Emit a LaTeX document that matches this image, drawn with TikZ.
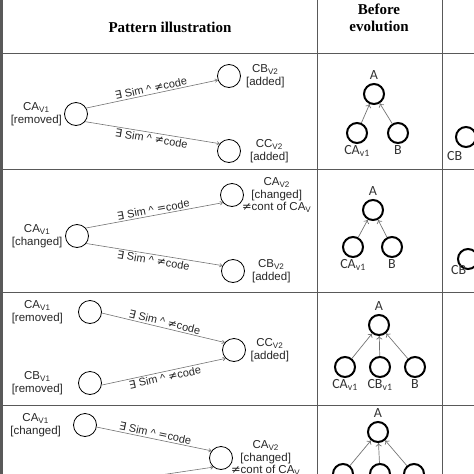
\documentclass[tikz,border=0pt]{standalone}
\usepackage{fontspec}
\setmainfont{Liberation Sans}
\newfontfamily\hdfont{Liberation Serif}
\newfontfamily\trfont{Carlito}
\newfontfamily\exfont{DejaVu Sans}
\usetikzlibrary{positioning,arrows.meta}
\newcommand{\simrel}[1]{{\exfont ∃} Sim \textasciicircum\ {\exfont #1}code}

\begin{document}
\begin{tikzpicture}[x=1pt,y=-1pt,
  pat/.style={circle,draw,minimum size=23pt,inner sep=0pt,line width=0.8pt},
  tnode/.style={circle,draw,minimum size=20pt,inner sep=0pt,line width=2pt},
  lbl/.style={align=center,inner sep=1pt,text=black!85,font=\fontsize{11.5}{12.5}\selectfont},
  tlbl/.style={inner sep=1pt,text=black!80,font=\trfont\fontsize{14}{15}\selectfont,text height=9.5pt,text depth=2.5pt},
  rel/.style={draw=black!55,line width=0.6pt,-{To[length=3pt,width=4pt]}},
  rlbl/.style={sloped,midway,inner sep=1.5pt,text=black!85,font=\fontsize{11}{12}\selectfont},
  tarr/.style={draw=black!55,line width=0.7pt,-{To[length=3.5pt,width=6pt]}},
  grid/.style={draw=black!65,line width=1pt},
  head/.style={align=center,font=\hdfont\bfseries\fontsize{15}{17}\selectfont}]
\useasboundingbox (0,0) rectangle (474,474);
\draw[grid] (0,53) -- (474,53);
\draw[grid] (0,169) -- (474,169);
\draw[grid] (0,292) -- (474,292);
\draw[grid] (0,405) -- (474,405);
\draw[grid] (317,0) -- (317,474);
\draw[grid] (442,0) -- (442,474);
\draw[grid,line width=2.5pt] (1.25,0) -- (1.25,474);
\node[head] (hpat) at (170,27) {Pattern illustration};
\node[head] (hbef) at (379,18) {Before\\evolution};

\node[pat] (p1a) at (76,114) {};
\node[pat] (p1b) at (229,76) {};
\node[pat] (p1c) at (229,151) {};
\node[lbl,left=1pt of p1a] (p1at) {CA\textsubscript{V1}\\{[removed]}};
\node[lbl,right=4pt of p1b] (p1bt) {CB\textsubscript{V2}\\{[added]}};
\node[lbl,right=8pt of p1c] (p1ct) {CC\textsubscript{V2}\\{[added]}};
\draw[rel] (p1a.30) -- node[rlbl,above] {\simrel{≠}} (p1b.200);
\draw[rel] (p1a.-40) -- node[rlbl,below] {\simrel{≠}} (p1c.142);

\node[pat] (p2a) at (77,236) {};
\node[pat] (p2b) at (232,195) {};
\node[pat] (p2c) at (233,271) {};
\node[lbl,left=1.5pt of p2a] (p2at) {CA\textsubscript{V1}\\{[changed]}};
\node[lbl,right=-3pt of p2b] (p2bt) {CA\textsubscript{V2}\\{[changed]}\\{\exfont ≠}cont of CA\textsubscript{V}};
\node[lbl,right=6pt of p2c] (p2ct) {CB\textsubscript{V2}\\{[added]}};
\draw[rel] (p2a.42) -- node[rlbl,above] {\simrel{=}} (p2b.220);
\draw[rel] (p2a.-39) -- node[rlbl,below] {\simrel{≠}} (p2c.153);

\node[pat] (p3a) at (90,312) {};
\node[pat] (p3b) at (90,383) {};
\node[pat] (p3c) at (234,350) {};
\node[lbl,left=14pt of p3a] (p3at) {CA\textsubscript{V1}\\{[removed]}};
\node[lbl,left=14pt of p3b] (p3bt) {CB\textsubscript{V1}\\{[removed]}};
\node[lbl,right=3.5pt of p3c] (p3ct) {CC\textsubscript{V2}\\{[added]}};
\draw[rel] (p3a.-5) -- node[rlbl,above] {\simrel{≠}} (p3c.141);
\draw[rel] (p3b.-10) -- node[rlbl,below] {\simrel{≠}} (p3c.225);

\node[pat] (p4a) at (85,425) {};
\node[pat] (p4b) at (221,458) {};
\coordinate (p4x) at (100,484);
\node[lbl,left=11pt of p4a] (p4at) {CA\textsubscript{V1}\\{[changed]}};
\node[lbl,right=-3pt of p4b] (p4bt) {CA\textsubscript{V2}\\{[changed]}\\{\exfont ≠}cont of CA\textsubscript{V}};
\draw[rel] (p4a.-10) -- node[rlbl,above] {\simrel{=}} (p4b.143);
\draw[rel] (p4x) -- (p4b.230);

\node[tnode] (t1a) at (374,94) {};
\node[tnode] (t1c) at (357,133) {};
\node[tnode] (t1b) at (398,133) {};
\node[tlbl,above=0pt of t1a] (t1at) {A};
\node[tlbl,below=0pt of t1c] (t1ct) {CA\textsubscript{v1}};
\node[tlbl,below=0pt of t1b] (t1bt) {B};
\draw[tarr] (t1c) -- (t1a);
\draw[tarr] (t1b) -- (t1a);

\node[tnode] (t2a) at (373,210) {};
\node[tnode] (t2c) at (353,247) {};
\node[tnode] (t2b) at (392,247) {};
\node[tlbl,above=0pt of t2a] (t2at) {A};
\node[tlbl,below=0pt of t2c] (t2ct) {CA\textsubscript{v1}};
\node[tlbl,below=0pt of t2b] (t2bt) {B};
\draw[tarr] (t2c) -- (t2a);
\draw[tarr] (t2b) -- (t2a);

\node[tnode] (t3a) at (379,325) {};
\node[tnode] (t3c) at (345,367) {};
\node[tnode] (t3d) at (380,367) {};
\node[tnode] (t3b) at (415,367) {};
\node[tlbl,above=0pt of t3a] (t3at) {A};
\node[tlbl,below=0pt of t3c] (t3ct) {CA\textsubscript{v1}};
\node[tlbl,below=0pt of t3d] (t3dt) {CB\textsubscript{v1}};
\node[tlbl,below=0pt of t3b] (t3bt) {B};
\draw[tarr] (t3c) -- (t3a);
\draw[tarr] (t3d) -- (t3a);
\draw[tarr] (t3b) -- (t3a);

\node[tnode] (t4a) at (378,432) {};
\node[tnode] (t4c) at (343,474) {};
\node[tnode] (t4d) at (380,474) {};
\node[tnode] (t4b) at (414,474) {};
\node[tlbl,above=0pt of t4a] (t4at) {A};
\draw[tarr] (t4c) -- (t4a);
\draw[tarr] (t4d) -- (t4a);
\draw[tarr] (t4b) -- (t4a);

\node[tnode] (a1x) at (466,137) {};
\node[tlbl,anchor=west] (a1xt) at (446,157) {CB};
\node[tnode] (a2x) at (468,259) {};
\node[tlbl,anchor=west] (a2xt) at (450,271) {CB};
\end{tikzpicture}
\end{document}
